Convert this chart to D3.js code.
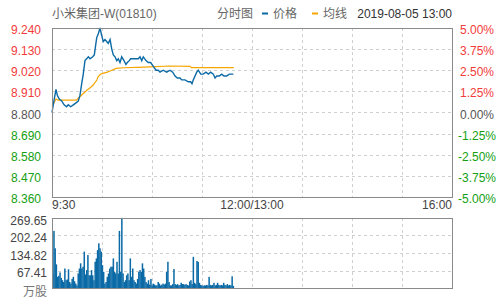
<!DOCTYPE html>
<html>
<head>
<meta charset="utf-8">
<script src="https://cdn.jsdelivr.net/npm/d3@7"></script>
<style>
  body { margin: 0; background: #fff; }
  svg text { font-family: "Liberation Sans", Arial, "Noto Sans CJK SC", sans-serif; font-size: 12px; }
</style>
</head>
<body>
<div id="chart"></div>
<script>
const TITLE = '小米集团-W(01810)',
      STAMP = '2019-08-05 13:00';
const PREV_CLOSE = 8.80;
const TOTAL_MIN = 330;

// price line, read at [minute from 9:30, price]
const priceMinutes = [0, 1.6, 3.3, 4.4, 6, 8, 10, 12, 13.4, 15.4, 17.6, 19.8, 21.7, 23.1, 24.5, 25.8, 27.2, 28.6, 30, 31.4,
  33.6, 34.9, 36, 36.9, 38.2, 39.6, 41, 42.3, 43.7, 45.1, 46.4, 47.9, 49.3, 50.6, 52, 53.4, 54.7, 56.1, 57.5, 59.4,
  61, 62.1, 63.8, 64.9, 67.1, 69.3, 71.2, 72.6, 74, 75.3, 77.6, 79.4, 81.4, 83.6, 85.8, 87.7, 89.1, 91.8, 94.6, 97.4,
  99.6, 101.5, 103.4, 105.6, 107, 109.7, 112.4, 114.4, 115.5, 116.6, 118, 119.4, 120.7, 122.7, 124.8, 127, 129, 130.9, 133.1, 134.5,
  135.9, 138, 140, 141.9, 144.1, 146.3, 148.3, 149.6];
const prices = [8.80, 8.86, 8.92, 8.89, 8.87, 8.86, 8.84, 8.83, 8.84, 8.83, 8.84, 8.85, 8.86, 8.89, 8.95, 9.00, 9.07, 9.08, 9.09, 9.08,
  9.09, 9.10, 9.15, 9.19, 9.21, 9.24, 9.20, 9.17, 9.18, 9.17, 9.16, 9.18, 9.13, 9.10, 9.09, 9.07, 9.08, 9.06, 9.09, 9.07,
  9.05, 9.06, 9.07, 9.08, 9.08, 9.08, 9.08, 9.09, 9.07, 9.09, 9.07, 9.06, 9.06, 9.04, 9.02, 9.02, 9.01, 9.02, 9.01, 9.02,
  9.01, 8.99, 8.98, 8.98, 8.97, 8.97, 8.96, 8.96, 8.95, 8.97, 8.99, 9.01, 9.02, 9.00, 9.00, 9.01, 9.00, 9.01, 9.00, 8.98,
  8.99, 8.99, 9.00, 8.99, 8.99, 9.00, 9.00, 9.00];

// average line
const avgMinutes = [0, 3.3, 5, 20, 23, 26, 29, 31, 34, 37, 38, 40, 42, 45, 48, 53, 59, 70, 81, 97, 114, 115, 150];
const avgPrices = [8.83, 8.87, 8.864, 8.864, 8.882, 8.90, 8.917, 8.926, 8.943, 8.969, 8.986, 8.999, 9.004, 9.009, 9.016, 9.03, 9.033, 9.035, 9.038, 9.042, 9.04, 9.034, 9.034];

// volume per minute (万股)
const volumes = [56, 220, 153, 91, 43, 47, 60, 39, 30, 23, 75, 30, 33, 72, 23, 17, 35, 43, 26, 17,
  10, 56, 75, 95, 75, 82, 140, 52, 69, 127, 49, 49, 69, 49, 30, 101, 114, 146, 172, 153,
  140, 88, 62, 17, 23, 43, 56, 75, 82, 82, 114, 62, 56, 101, 56, 220, 62, 270, 56, 23,
  30, 49, 56, 30, 114, 43, 75, 30, 23, 17, 35, 62, 69, 62, 95, 75, 43, 23, 17, 30,
  13, 35, 10, 17, 13, 10, 10, 23, 17, 10, 13, 17, 13, 17, 62, 101, 23, 10, 10, 15,
  73, 15, 12, 15, 10, 12, 20, 15, 15, 12, 15, 12, 10, 25, 30, 15, 120, 20, 15, 104,
  100, 20, 12, 10, 8, 10, 10, 12, 10, 43, 12, 10, 12, 20, 10, 12, 20, 12, 10, 12,
  10, 20, 12, 10, 15, 10, 12, 10, 45, 8];

const priceTicks = [9.24, 9.13, 9.02, 8.91, 8.80, 8.69, 8.58, 8.47, 8.36];
const pctTicks = ['5.00%', '3.75%', '2.50%', '1.25%', '0.00%', '-1.25%', '-2.50%', '-3.75%', '-5.00%'];
const volTicks = [269.65, 202.24, 134.82, 67.41];
const timeLabels = ['9:30', '12:00/13:00', '16:00'];

const Chart = function(){
  const W = 502, H = 301,
        L = 52, R = 452,
        PT = 28, PB = 197,
        VT = 218, VB = 288;
  const BLUE = '#0b6aa6', ORANGE = '#f7a600',
        RED = '#f23b3b', GREEN = '#14a014', GREY = '#555';

  const tone = (v) => v > PREV_CLOSE + 1e-9 ? RED : (v < PREV_CLOSE - 1e-9 ? GREEN : GREY);

  const plot = () => {
    const svg = d3.select('#chart').append('svg')
      .attr('width', W).attr('height', H);

    const x = d3.scaleLinear().domain([0, TOTAL_MIN]).range([L, R]);
    const y = d3.scaleLinear().domain([priceTicks[priceTicks.length - 1], priceTicks[0]]).range([PB, PT]);
    const yv = d3.scaleLinear().domain([0, volTicks[0]]).range([VB, VT]);

    // header
    svg.append('text').attr('x', 52).attr('y', 17.5).attr('fill', '#666').text(TITLE);
    svg.append('text').attr('x', 217).attr('y', 17.5).attr('fill', '#666').text('分时图');
    svg.append('rect').attr('x', 262).attr('y', 12.5).attr('width', 6).attr('height', 2).attr('fill', BLUE);
    svg.append('text').attr('x', 273).attr('y', 17.5).attr('fill', '#666').text('价格');
    svg.append('rect').attr('x', 312).attr('y', 12.5).attr('width', 6).attr('height', 2).attr('fill', ORANGE);
    svg.append('text').attr('x', 323).attr('y', 17.5).attr('fill', '#666').text('均线');
    svg.append('text').attr('x', 452).attr('y', 17.5).attr('text-anchor', 'end').attr('fill', '#333').text(STAMP);

    // grids
    const cols = d3.range(1, 8).map(i => L + i * (R - L) / 8);
    const grid = svg.append('g').attr('stroke', '#d0d0d0').attr('stroke-dasharray', '3,3').attr('stroke-width', 1);
    priceTicks.slice(1, -1).forEach(t => {
      grid.append('line').attr('x1', L).attr('x2', R)
        .attr('y1', Math.round(y(t)) + 0.5).attr('y2', Math.round(y(t)) + 0.5);
    });
    volTicks.slice(1).forEach(t => {
      grid.append('line').attr('x1', L).attr('x2', R)
        .attr('y1', Math.round(yv(t)) + 0.5).attr('y2', Math.round(yv(t)) + 0.5);
    });
    cols.forEach(c => {
      grid.append('line').attr('x1', c + 0.5).attr('x2', c + 0.5).attr('y1', PT).attr('y2', PB);
      grid.append('line').attr('x1', c + 0.5).attr('x2', c + 0.5).attr('y1', VT).attr('y2', VB);
    });

    // volume bars
    const bw = x(1) - x(0);
    svg.append('g').selectAll('rect').data(volumes).enter().append('rect')
      .attr('x', (d, i) => x(i))
      .attr('width', bw + 0.3)
      .attr('y', d => yv(d))
      .attr('height', d => VB - yv(d))
      .attr('fill', BLUE);

    // price and average
    const line = d3.line().x(d => x(d[0])).y(d => y(d[1]));
    svg.append('path').datum(d3.zip(avgMinutes, avgPrices))
      .attr('d', line).attr('fill', 'none').attr('stroke', ORANGE).attr('stroke-width', 1.2);
    svg.append('path').datum(d3.zip(priceMinutes, prices))
      .attr('d', line).attr('fill', 'none').attr('stroke', BLUE).attr('stroke-width', 1.4);

    // frames
    svg.append('rect').attr('x', L + 0.5).attr('y', PT + 0.5).attr('width', R - L).attr('height', PB - PT)
      .attr('fill', 'none').attr('stroke', '#8a8a8a');
    svg.append('rect').attr('x', L + 0.5).attr('y', VT + 0.5).attr('width', R - L).attr('height', VB - VT)
      .attr('fill', 'none').attr('stroke', '#8a8a8a');

    // price axis (left) and pct axis (right)
    svg.append('g').selectAll('text').data(priceTicks).enter().append('text')
      .attr('x', 41).attr('y', d => y(d) + 6)
      .attr('text-anchor', 'end').attr('fill', d => tone(d))
      .text(d => d.toFixed(3));
    svg.append('g').selectAll('text').data(pctTicks).enter().append('text')
      .attr('x', 477).attr('y', (d, i) => y(priceTicks[i]) + 6)
      .attr('text-anchor', 'middle').attr('fill', (d, i) => tone(priceTicks[i]))
      .text(d => d);

    // time labels
    svg.append('text').attr('x', L).attr('y', 208.5).attr('fill', '#444').text(timeLabels[0]);
    svg.append('text').attr('x', (L + R) / 2).attr('y', 208.5).attr('text-anchor', 'middle').attr('fill', '#444').text(timeLabels[1]);
    svg.append('text').attr('x', R).attr('y', 208.5).attr('text-anchor', 'end').attr('fill', '#444').text(timeLabels[2]);

    // volume axis
    svg.append('g').selectAll('text').data(volTicks).enter().append('text')
      .attr('x', 47).attr('y', d => yv(d) + 6.5)
      .attr('text-anchor', 'end').attr('fill', '#444')
      .text(d => d.toFixed(2));
    svg.append('text').attr('x', 47).attr('y', 296).attr('text-anchor', 'end').attr('fill', '#777').text('万股');
  };

  return { load: plot };
}();
document.addEventListener('DOMContentLoaded', Chart.load);
</script>
</body>
</html>
